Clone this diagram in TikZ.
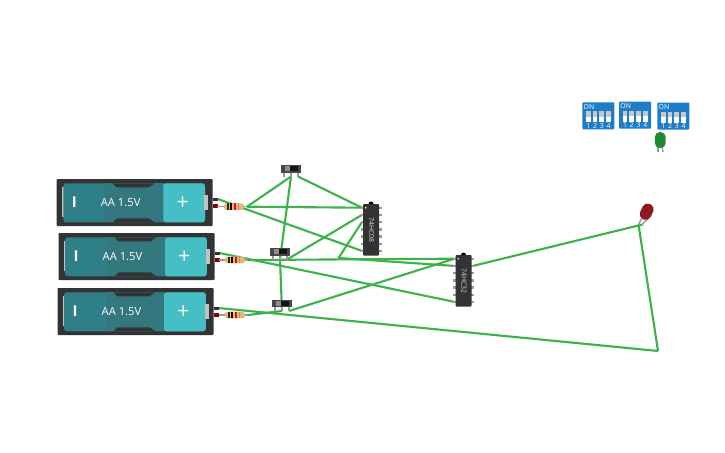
\documentclass[tikz,border=0pt]{standalone}
\usepackage{fontspec}
\usetikzlibrary{backgrounds}
\setmainfont{Open Sans}
\definecolor{holder}{HTML}{333333}
\definecolor{celldark}{HTML}{2F7F88}
\definecolor{cellmid}{HTML}{33787F}
\definecolor{celllight}{HTML}{45BFC5}
\definecolor{wiregreen}{HTML}{3DB14A}
\definecolor{dipblue}{HTML}{1F7CC6}
\definecolor{pingray}{HTML}{9A9A9A}
\definecolor{restan}{HTML}{DDB97C}
\definecolor{ledgreen}{HTML}{1E8B33}
\definecolor{ledred}{HTML}{8B1A22}
\tikzset{
  wire/.style={wiregreen, line width=1.2pt},
  leg/.style={pingray, line width=0.8pt},
  celltext/.style={white, font=\fontsize{6.4}{7}\selectfont},
  pics/battery/.style={code={
    \fill[holder, rounded corners=0.5] (0,0) rectangle (156,47);
    \fill[pingray!60] (5,8) rectangle (7.5,38);
    \fill[celldark, rounded corners=1.5] (6.6,4.3) rectangle (148.3,43.3);
    \fill[cellmid] (48,4.3) rectangle (106.6,43.3);
    \fill[celllight, rounded corners=1.5] (106.6,4.3) rectangle (148.3,43.3);
    \fill[holder] (56,4.3) -- (60,8.3) -- (92,8.3) -- (98,4.3) -- cycle;
    \fill[holder] (56,43.3) -- (60,39.3) -- (92,39.3) -- (98,43.3) -- cycle;
    \fill[pingray!60] (147.5,16) rectangle (151,31);
    \fill[holder] (156,18.5) rectangle (161,22);
    \fill[red!55!black] (156,25) rectangle (161,28.5);
    \coordinate (-black) at (161,20);
    \coordinate (-red) at (161,27);
    \node[celltext, font=\fontsize{8.5}{9}\selectfont\bfseries] (-minus) at (17.6,23.4) {I};
    \node[celltext] (-label) at (64,23.4) {AA 1.5V};
    \node[celltext, font=\fontsize{12}{13}\selectfont] (-plus) at (126,24) {+};
  }},
  pics/resistor/.style={code={
    \draw[leg] (-6,0) -- (0,0);
    \draw[leg] (20,0) -- (23,0);
    \fill[restan, rounded corners=1.5] (0,-3.3) rectangle (20,3.3);
    \fill[black!70!brown] (2.5,-3.3) rectangle (4.5,3.3);
    \fill[black] (5.5,-3.3) rectangle (7.5,3.3);
    \fill[red] (9.5,-3.3) rectangle (11.5,3.3);
    \fill[restan!80!black] (13.5,-3.3) rectangle (15,3.3);
    \coordinate (-in) at (-6,0);
    \coordinate (-out) at (23,0);
  }},
  pics/slider/.style={code={
    \foreach \i in {3,10,17} \draw[leg] (\i,7) -- (\i,11.5);
    \fill[black!72] (0,0) rectangle (20,7.5);
    \fill[black!45] (3.5,1.2) rectangle (8.5,6.3);
    \fill[black!92] (8.5,1.2) rectangle (17,6.3);
    \coordinate (-a) at (3,11.5);
    \coordinate (-b) at (10,11.5);
    \coordinate (-c) at (17,11.5);
  }},
  pics/ic/.style={code={
    \foreach \i in {1,...,7} {
      \fill[pingray] (-2.5,2.5+7.2*\i-7.2) rectangle (18.5,5+7.2*\i-7.2);
      \coordinate (-l\i) at (-1,3.7+7.2*\i-7.2);
      \coordinate (-r\i) at (17.5,3.7+7.2*\i-7.2);
    }
    \fill[black!80, rounded corners=0.5] (0,0) rectangle (16,51.5);
    \fill[black] (5.5,0) arc[start angle=180, end angle=360, radius=2.5] -- cycle;
    \fill[white] (2.7,3.7) circle (0.9);
    \node[white!85!black, rotate=-90, font=\fontsize{3.9}{4}\selectfont] (-name) at (8.5,26) {#1};
  }},
  pics/dip/.style={code={
    \fill[dipblue, rounded corners=0.5] (0,0) rectangle (32,27);
    \node[white, font=\fontsize{3.9}{4}\selectfont] (-on) at (6.7,4.6) {ON};
    \foreach \i/\p in {1/6,2/12.7,3/19.5,4/26.3} {
      \fill[white] (\p-2.4,9) rectangle (\p+2.4,20);
      \fill[black!22] (\p-2.4,9) rectangle (\p+2.4,14.5);
      \node[white, font=\fontsize{3.9}{4}\selectfont] (-num\i) at (\p,23.5) {\i};
    }
  }},
}
\begin{document}
\begin{tikzpicture}[x=0.02cm, y=-0.02cm]
  \useasboundingbox (0,0) rectangle (725,453);

  \pic (B1) at (56.7,179) {battery};
  \pic (B2) at (58.5,233) {battery};
  \pic (B3) at (57.5,288) {battery};

  \pic (R1) at (224,206.7) {resistor};
  \pic (R2) at (225,260) {resistor};
  \pic (R3) at (225,315) {resistor};

  \pic (S1) at (281,165) {slider};
  \pic (S2) at (270,248) {slider};
  \pic (S3) at (272,299.5) {slider};

  \pic (U1) at (363,204) {ic={74HC08}};
  \pic (U2) at (455.5,255) {ic={74HC32}};

  \pic (P1) at (582.3,102.3) {dip};
  \pic (P2) at (619,101.7) {dip};
  \pic (P3) at (657.3,102.5) {dip};

  % green led
  \draw[leg] (658,146) -- (658,152);
  \draw[leg] (662,146) -- (663,152);
  \node (D1) at (660.3,140) [fill=ledgreen, minimum width=6.2pt, minimum height=9pt, inner sep=0pt, rounded corners=2.8pt] {};

  % red led
  \coordinate (D2a) at (638.5,224.5);
  \coordinate (D2k) at (642.5,224.5);
  \draw[leg] (643,216) -- (D2a);
  \draw[leg] (648,218) -- (D2k);
  \node (D2) at (646.7,211.7) [fill=ledred, rotate=-25, minimum width=6.6pt, minimum height=9.5pt, inner sep=0pt, rounded corners=3pt] {};

  \draw[leg] (B1-red) to (R1-in);
  \draw[leg] (B2-red) to (R2-in);
  \draw[leg] (B3-red) to (R3-in);

  \coordinate (tap) at (338.5,258);
  \coordinate (corner) at (658,351);

  \begin{scope}[on background layer]
    \draw[wire] (B1-black) to (U1-l7);
    \draw[wire] (R1-out) to (S1-b);
    \draw[wire] (R1-out) to (U1-l1);
    \draw[wire] (S1-c) to (U1-l1);
    \draw[wire] (S1-b) to (S2-b);
    \draw[wire] (S2-b) to (S3-b);
    \draw[wire] (S2-c) to (U1-l2);
    \draw[wire] (tap) to (U1-l3);
    \draw[wire] (R2-out) to (U2-l1);
    \draw[wire] (tap) to (U2-l2);
    \draw[wire] (B2-black) to (U2-l7);
    \draw[wire] (R3-out) to (S3-b);
    \draw[wire] (S3-c) to (U2-l1);
    \draw[wire] (U2-r2) to (D2k);
    \draw[wire] (B3-black) to (corner);
    \draw[wire] (corner) to (D2a);
  \end{scope}
\end{tikzpicture}
\end{document}
